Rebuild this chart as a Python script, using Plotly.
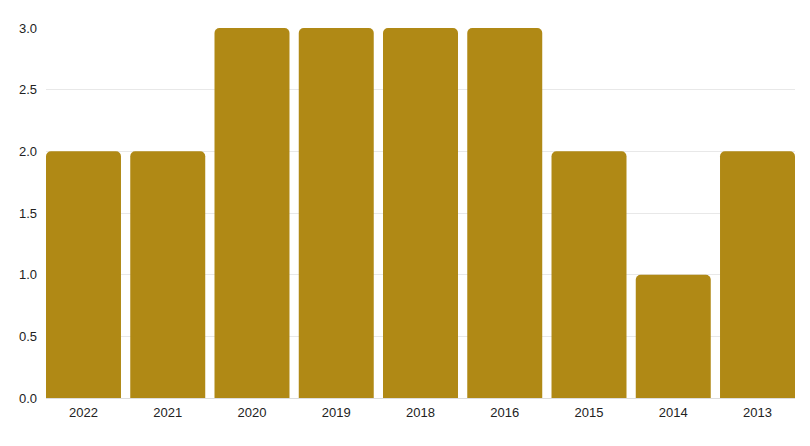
import plotly.graph_objects as go

years = ["2022", "2021", "2020", "2019", "2018", "2016", "2015", "2014", "2013"]
counts = [2, 2, 3, 3, 3, 3, 2, 1, 2]

gap = 0.11
half = (1 - gap) / 2

fig = go.Figure(
    go.Bar(
        x=years,
        y=counts,
        marker=dict(color="#B08915", cornerradius=5, line=dict(width=0)),
        hoverinfo="x+y",
    )
)

# page body adds an 8px margin, so sizes are shrunk to fit the window
fig.update_layout(
    width=800,
    height=430,
    margin=dict(l=38, r=13, t=20, b=40),
    plot_bgcolor="white",
    paper_bgcolor="white",
    bargap=gap,
    showlegend=False,
    font=dict(family="Liberation Sans, Arial, sans-serif", size=13, color="#222"),
    xaxis=dict(
        type="category",
        range=[-half, len(years) - 1 + half],  # bars touch the plot edges
        showgrid=False,
        showline=True,
        linecolor="#dddddd",
        linewidth=1,
        ticks="",
        automargin=False,
        ticklabelstandoff=2,
    ),
    yaxis=dict(
        range=[0, 3],
        dtick=0.5,
        tickformat=".1f",
        showgrid=True,
        gridcolor="#e8e8e8",
        zeroline=False,
        ticks="",
        automargin=False,
        ticklabelstandoff=8,
    ),
)

fig.write_html("out.html")
